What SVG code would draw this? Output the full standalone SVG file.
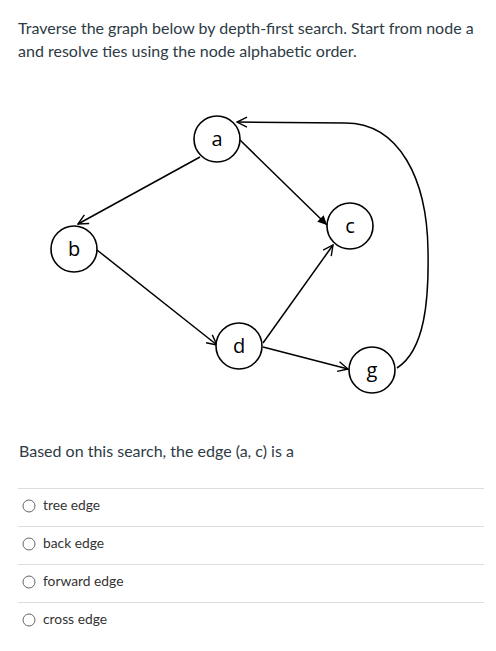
<svg xmlns="http://www.w3.org/2000/svg" width="496" height="651" viewBox="0 0 496 651">
<defs>
<style>
.q{font-family:Lato,"Open Sans","Liberation Sans",sans-serif;font-size:16px;fill:#2d3b45}
.o{font-family:Lato,"Open Sans","Liberation Sans",sans-serif;font-size:13.8px;fill:#333}
.node circle{fill:#fff;stroke:#000;stroke-width:1.6}
.node text{font-family:"Open Sans","Liberation Sans",sans-serif;font-size:20px;fill:#000;text-anchor:middle}
.edge{fill:none;stroke:#000;stroke-width:1.5}
.sep{stroke:#ddd;stroke-width:1}
.radio{fill:#fff;stroke:#666;stroke-width:1}
</style>
<marker id="open" viewBox="0 0 12 12" refX="11" refY="6" markerWidth="12" markerHeight="12" markerUnits="userSpaceOnUse" orient="auto">
<path d="M1,1 L11,6 L1,11" fill="none" stroke="#000" stroke-width="1.4"/>
</marker>
<marker id="filled" viewBox="0 0 12 12" refX="11" refY="6" markerWidth="11" markerHeight="11" markerUnits="userSpaceOnUse" orient="auto">
<path d="M1,1 L11,6 L1,11 Z" fill="#000"/>
</marker>
</defs>
<rect width="496" height="651" fill="#fff"/>
<text class="q" x="18" y="34">Traverse the graph below by depth-first search. Start from node a</text>
<text class="q" x="18" y="57">and resolve ties using the node alphabetic order.</text>
<g id="connectors">
<line class="edge" x1="200" y1="157" x2="78" y2="224" marker-end="url(#open)"/>
<line class="edge" x1="240" y1="140" x2="327" y2="225" marker-end="url(#filled)"/>
<line class="edge" x1="97" y1="250" x2="217" y2="345" marker-end="url(#open)"/>
<line class="edge" x1="263" y1="343" x2="333" y2="245" marker-end="url(#open)"/>
<line class="edge" x1="263" y1="347" x2="348" y2="369" marker-end="url(#open)"/>
<path class="edge" d="M397,368 C425,350 429,300 428,250 C427,180 400,123 345,123 L237,122" marker-end="url(#open)"/>
</g>
<g id="node-a" class="node"><circle cx="217" cy="139" r="23"/><text x="217" y="146">a</text></g>
<g id="node-b" class="node"><circle cx="74" cy="249" r="23"/><text x="74" y="256">b</text></g>
<g id="node-c" class="node"><circle cx="350" cy="226" r="23"/><text x="350" y="233">c</text></g>
<g id="node-d" class="node"><circle cx="239" cy="346" r="23"/><text x="239" y="353">d</text></g>
<g id="node-g" class="node"><circle cx="372" cy="370" r="23"/><text x="372" y="377">g</text></g>
<text class="q" x="19" y="457">Based on this search, the edge (a, c) is a</text>
<line class="sep" x1="18" y1="488.5" x2="484" y2="488.5"/>
<line class="sep" x1="18" y1="526.5" x2="484" y2="526.5"/>
<line class="sep" x1="18" y1="564.5" x2="484" y2="564.5"/>
<line class="sep" x1="18" y1="602.5" x2="484" y2="602.5"/>
<circle class="radio" cx="29" cy="506" r="6"/>
<text class="o" x="43" y="510">tree edge</text>
<circle class="radio" cx="29" cy="544" r="6"/>
<text class="o" x="43" y="548">back edge</text>
<circle class="radio" cx="29" cy="582" r="6"/>
<text class="o" x="43" y="586">forward edge</text>
<circle class="radio" cx="29" cy="620" r="6"/>
<text class="o" x="43" y="624">cross edge</text>
</svg>
